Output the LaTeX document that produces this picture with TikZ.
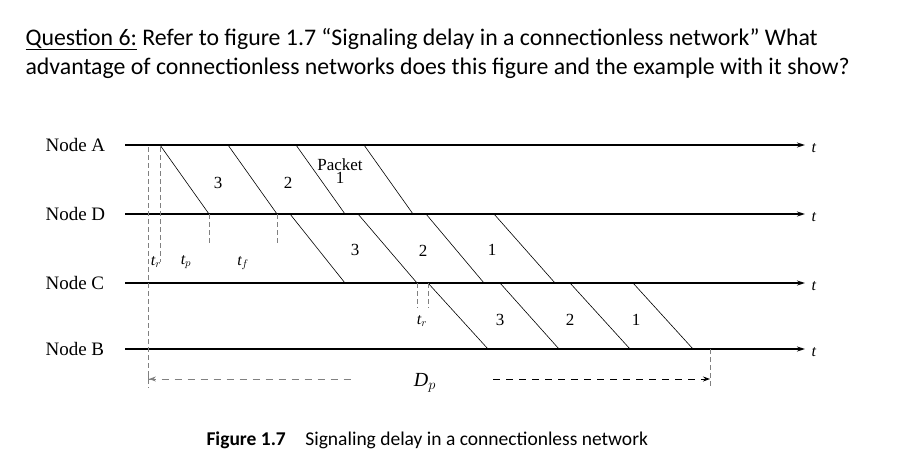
\documentclass[tikz,border=0pt]{standalone}
\usepackage{fontspec}
\setmainfont{Liberation Serif}
\newfontfamily\calfont{Carlito}
\usetikzlibrary{arrows.meta}
\begin{document}
\begin{tikzpicture}[x=1pt,y=-1pt,
  axis/.style={line width=1.6pt,-{Stealth[length=8pt,width=5pt]}},
  pk/.style={line width=0.6pt},
  vd/.style={dashed,gray,line width=0.9pt,dash pattern=on 5pt off 3pt},
  lab/.style={font=\fontsize{19}{21}\selectfont},
  num/.style={font=\fontsize{17}{18}\selectfont},
  tt/.style={font=\fontsize{16}{18}\selectfont\itshape}]
\useasboundingbox (0,0) rectangle (905,463);
\node[anchor=west,font=\calfont\fontsize{23.8}{28}\selectfont,align=left] (q) at (22,53)
 {\underline{Question 6:} Refer to figure 1.7 “Signaling delay in a connectionless network” What\\[1pt]
 advantage of connectionless networks does this figure and the example with it show?};
\foreach \n/\y/\nm in {A/145/Node A,D/214/Node D,C/283/Node C,B/349/Node B}{
  \node[lab,anchor=west] (l\n) at (42,\y) {\nm};
  \coordinate (s\n) at (125,\y);
  \coordinate (e\n) at (805,\y);
  \draw[axis] (s\n) -- (e\n);
  \node[tt,anchor=west] (t\n) at (808,\y+3) {t};
}
\foreach \a/\b in {160/209,228/277,296/345,364/413} \draw[pk] (\a,145) -- (\b,214);
\foreach \a/\b in {290/345,358/417,426/484,494/555} \draw[pk] (\a,214) -- (\b,283);
\foreach \a/\b in {428/488,500/559,570/630,633/693} \draw[pk] (\a,283) -- (\b,349);
\draw[vd] (148,147) -- (148,388);
\draw[vd] (160,147) -- (160,262);
\draw[vd] (209,214) -- (209,243);
\draw[vd] (277,214) -- (277,243);
\draw[vd] (417,283) -- (417,308);
\draw[vd] (428,283) -- (428,308);
\draw[vd] (710,349) -- (710,388);
\node[num] (n1) at (218,183) {3};
\node[num] (n2) at (288,183) {2};
\node[num,align=center] (n3) at (340,171) {Packet\\[-5pt]1};
\node[num] (n4) at (355,250) {3};
\node[num] (n5) at (423,251) {2};
\node[num] (n6) at (492,250) {1};
\node[num] (n7) at (500,320) {3};
\node[num] (n8) at (570,320) {2};
\node[num] (n9) at (636,320) {1};
\node[tt] (tr1) at (156,262) {t$_r$};
\node[tt] (tp) at (186,262) {t$_p$};
\node[tt] (tf) at (243,263) {t$_f$};
\node[tt] (tr2) at (422,321) {t$_r$};
\node[font=\fontsize{20}{22}\selectfont\itshape] (dp) at (425,383) {D$_p$};
\coordinate (d0) at (148,379);
\coordinate (d1) at (355,379);
\coordinate (d2) at (493,379);
\coordinate (d3) at (710,379);
\draw[gray,line width=0.9pt,dash pattern=on 7pt off 6pt,{Bar[width=8pt]Stealth[length=7pt,width=5pt]}-] (d0) -- (d1);
\draw[line width=0.9pt,dash pattern=on 7pt off 6pt,-{Stealth[length=7pt,width=5pt]}] (d2) -- (d3);
\node[anchor=west,font=\calfont\fontsize{19.5}{22}\selectfont] (cp) at (203,440)
 {\textbf{Figure 1.7}\quad Signaling delay in a connectionless network};
\end{tikzpicture}
\end{document}
